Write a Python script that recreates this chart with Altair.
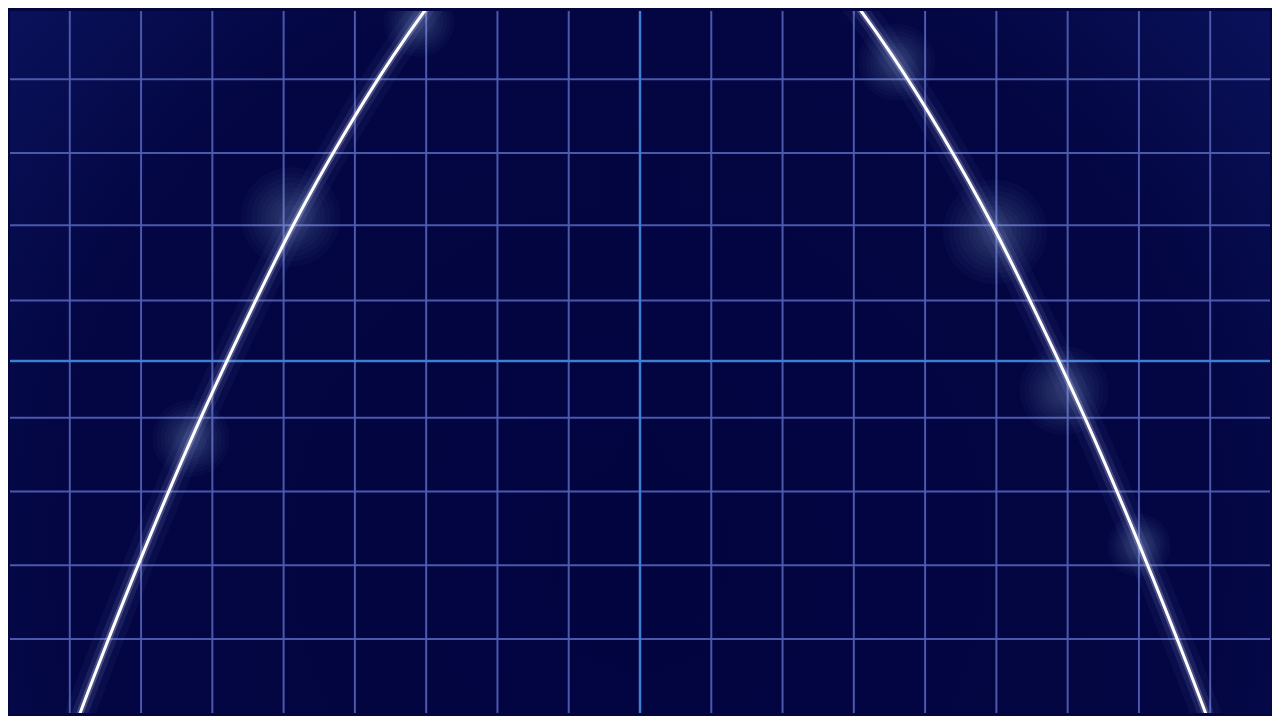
import altair as alt
import pandas as pd

# Curve points (grid units: 1 unit = one grid cell)
curve_x = [-8.35, -7.65, -6.95, -6.25, -5.55, -4.86, -4.16, -3.46, -2.76, -2.06, -1.36, 0.04,
           1.44, 2.14, 2.84, 3.54, 4.24, 4.94, 5.63, 6.33, 7.03, 7.73, 8.43]
curve_y = [-6.06, -4.25, -2.55, -0.96, 0.50, 1.85, 3.06, 4.14, 5.08, 5.87, 6.49, 7.11,
           6.49, 5.87, 5.08, 4.14, 3.06, 1.85, 0.50, -0.96, -2.55, -4.25, -6.06]

# Bright glow spots along the curve
glow_x = [-4.90, -6.30, -3.10, 4.98, 5.95, 3.60, 7.00]
glow_y = [1.95, -1.05, 4.60, 1.75, -0.40, 4.05, -2.50]
glow_s = [1.0, 0.6, 0.5, 1.1, 0.8, 0.6, 0.4]

# Grid line positions (grid units)
grid_x = [-8, -7, -6, -5, -4, -3, -2, -1, 1, 2, 3, 4, 5, 6, 7, 8]
grid_y = [3.82, 2.82, 1.84, 0.82, -0.77, -1.77, -2.77, -3.77]
axis_pos = [0]

x_domain = [-8.839, 8.839]
y_domain = [-4.770, 4.743]

W, H = 1264, 704

curve = pd.DataFrame({"x": curve_x, "y": curve_y, "i": list(range(len(curve_x)))})
glow_df = pd.DataFrame({"x": glow_x, "y": glow_y, "s": glow_s})
axis_df = pd.DataFrame({"v": axis_pos})
gx_df = pd.DataFrame({"v": grid_x})
gy_df = pd.DataFrame({"v": grid_y})

xs = alt.Scale(domain=x_domain, nice=False, zero=False)
ys = alt.Scale(domain=y_domain, nice=False, zero=False)

grid_col = "#4f5db2"

bg = alt.Gradient(
    gradient="radial",
    stops=[alt.GradientStop(offset=0, color="#020440"),
           alt.GradientStop(offset=0.55, color="#030642"),
           alt.GradientStop(offset=1, color="#111d72")],
    x1=0.5, y1=0.65, x2=0.5, y2=0.65, r1=0, r2=0.85,
)

backdrop = alt.Chart(axis_df).mark_rect(fill=bg).encode(
    x=alt.value(0), x2=alt.value(W), y=alt.value(0), y2=alt.value(H)
)

gridv = alt.Chart(gx_df).mark_rule(color=grid_col, strokeWidth=2, opacity=0.95).encode(
    x=alt.X("v:Q", scale=xs, axis=None)
)
gridh = alt.Chart(gy_df).mark_rule(color=grid_col, strokeWidth=2, opacity=0.95).encode(
    y=alt.Y("v:Q", scale=ys, axis=None)
)
vaxis = alt.Chart(axis_df).mark_rule(color="#3f7ed0", strokeWidth=2.5).encode(
    x=alt.X("v:Q", scale=xs, axis=None)
)
haxis = alt.Chart(axis_df).mark_rule(color="#3f7ed0", strokeWidth=2.5).encode(
    y=alt.Y("v:Q", scale=ys, axis=None)
)

spots = []
for size_max in [10000, 8000, 6300, 4800, 3600, 2600, 1800, 1100, 600]:
    spots.append(
        alt.Chart(glow_df).mark_circle(color="#c4cbff", opacity=0.028, clip=True).encode(
            x=alt.X("x:Q", scale=xs, axis=None),
            y=alt.Y("y:Q", scale=ys, axis=None),
            size=alt.Size("s:Q", scale=alt.Scale(domain=[0, 1], range=[0, size_max]), legend=None),
        )
    )

base = alt.Chart(curve).encode(
    x=alt.X("x:Q", scale=xs, axis=None),
    y=alt.Y("y:Q", scale=ys, axis=None),
    order="i:Q",
)

glow0 = base.mark_line(interpolate="monotone", clip=True, color="#8f9cff", strokeWidth=30, opacity=0.05)
glow1 = base.mark_line(interpolate="monotone", clip=True, color="#b4bcff", strokeWidth=16, opacity=0.10)
glow2 = base.mark_line(interpolate="monotone", clip=True, color="#d6dcff", strokeWidth=7, opacity=0.25)
line = base.mark_line(interpolate="monotone", clip=True, color="#ffffff", strokeWidth=3)

chart = alt.layer(backdrop, gridv, gridh, vaxis, haxis, *spots, glow0, glow1, glow2, line).properties(
    width=W, height=H, padding=0, background="#03063f"
).resolve_scale(size="independent").configure_view(stroke=None)

chart.save("out.html", embed_options={"renderer": "svg", "actions": False})
